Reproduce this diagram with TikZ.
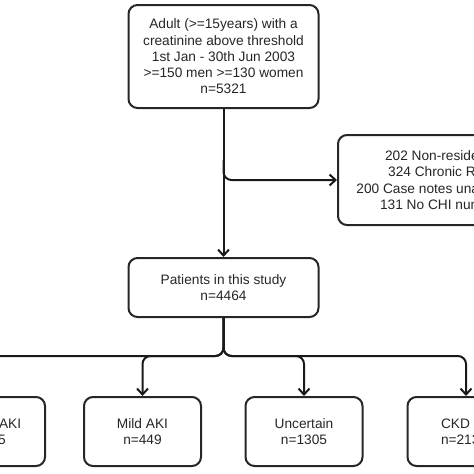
\documentclass[tikz,border=0pt]{standalone}
\usepackage{fontspec}
\setmainfont{Liberation Sans}
\usetikzlibrary{arrows.meta}
\begin{document}
\begin{tikzpicture}[x=1pt,y=-1pt,
  box/.style={draw=black!85, line width=2pt, rounded corners=9pt, align=center,
    inner sep=0pt, font=\fontsize{13.7}{16.2}\selectfont, text=black!85},
  arr/.style={draw=black!90, line width=2pt, rounded corners=8pt,
    -{Straight Barb[length=6pt,width=11pt,line width=2pt]}}]
\useasboundingbox (0,0) rectangle (474,474);
\node[box, minimum width=190pt, minimum height=103pt] (top) at (223.5,56.5)
  {Adult (>=15years) with a\\creatinine above threshold\\1st Jan - 30th Jun 2003\\>=150 men >=130 women\\n=5321};
\node[box, minimum width=190pt, minimum height=59pt] (pat) at (223.5,287.5)
  {Patients in this study\\n=4464};
\node[box, minimum width=206pt, minimum height=90pt] (excl) at (441,180)
  {202 Non-residents\\324 Chronic RRT\\200 Case notes unavailable\\131 No CHI number};
\node[box, minimum width=117pt, minimum height=69pt] (b1) at (-13.5,431.5) {Severe AKI\\n=475};
\node[box, minimum width=117pt, minimum height=69pt] (b2) at (142.5,431.5) {Mild AKI\\n=449};
\node[box, minimum width=117pt, minimum height=69pt] (b3) at (304,431.5) {Uncertain\\n=1305};
\node[box, minimum width=117pt, minimum height=69pt, text width=50pt, align=left] (b4) at (466,431.5) {CKD\\n=2135};
\coordinate (split) at (223.5,160);
\coordinate (hub) at (223.5,356);
\draw[arr] (top) -- (pat);
\draw[arr] (split) |- (excl.west);
\draw[arr] (pat.south) -- (hub) -| (b1.north);
\draw[arr] (pat.south) -- (hub) -| (b2.north);
\draw[arr] (pat.south) -- (hub) -| (b3.north);
\draw[arr] (pat.south) -- (hub) -| (b4.north);
\end{tikzpicture}
\end{document}
